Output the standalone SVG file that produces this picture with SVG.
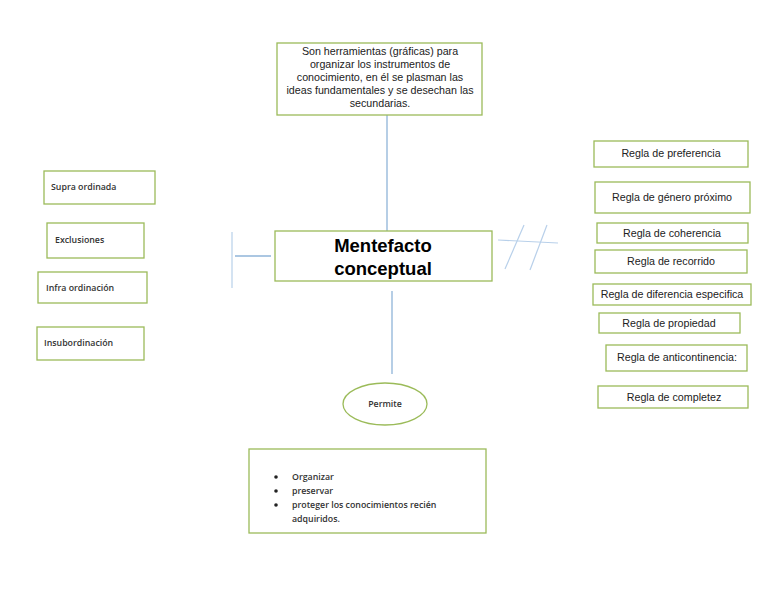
<svg xmlns="http://www.w3.org/2000/svg" width="768" height="594" viewBox="0 0 768 594">
<style>
.box{fill:#fff;stroke:#9bbb59;stroke-width:1.3}
.ln{stroke:#8fb4d8;stroke-width:1.3;fill:none}
.lt{stroke:#b8d0ea;stroke-width:1.2;fill:none}
.a{font-family:"Liberation Sans",Arial,sans-serif;font-size:10.7px;fill:#222;text-anchor:middle}
.c{font-family:"Open Sans","Noto Sans",sans-serif;font-size:8.8px;font-weight:600;fill:#333}
.t{font-family:"Liberation Sans",Arial,sans-serif;font-size:18.5px;font-weight:bold;fill:#000;text-anchor:middle}
</style>
<rect width="768" height="594" fill="#fff"/>
<g id="connectors">
<line class="ln" x1="387" y1="104" x2="387" y2="231"/>
<line class="ln" x1="392" y1="291" x2="392" y2="374"/>
<line class="lt" x1="232" y1="232" x2="232" y2="288"/>
<line class="ln" x1="235" y1="256" x2="271" y2="256"/>
<line class="lt" x1="498" y1="240" x2="558" y2="243"/>
<line class="lt" x1="524" y1="225" x2="505" y2="269"/>
<line class="lt" x1="547" y1="225" x2="530" y2="270"/>
</g>
<g id="definicion">
<rect class="box" x="277" y="43" width="205" height="72"/>
<text class="a" x="380" y="55">Son herramientas (gráficas) para</text>
<text class="a" x="380" y="68">organizar los instrumentos de</text>
<text class="a" x="380" y="81">conocimiento, en él se plasman las</text>
<text class="a" x="380" y="94">ideas fundamentales y se desechan las</text>
<text class="a" x="380" y="107">secundarias.</text>
</g>
<g id="mentefacto">
<rect class="box" x="275" y="231" width="217" height="50"/>
<text class="t" x="383" y="252">Mentefacto</text>
<text class="t" x="383" y="275">conceptual</text>
</g>
<g id="supra"><rect class="box" x="44" y="171" width="111" height="33"/><text class="c" x="51" y="190">Supra ordinada</text></g>
<g id="exclusiones"><rect class="box" x="47" y="223" width="97" height="35"/><text class="c" x="55" y="243">Exclusiones</text></g>
<g id="infra"><rect class="box" x="38" y="272" width="109" height="31"/><text class="c" x="46" y="291">Infra ordinación</text></g>
<g id="insub"><rect class="box" x="37" y="327" width="107" height="33"/><text class="c" x="44" y="346">Insubordinación</text></g>
<g id="preferencia"><rect class="box" x="594" y="141" width="154" height="26"/><text class="a" x="671" y="157">Regla de preferencia</text></g>
<g id="genero"><rect class="box" x="595" y="182" width="155" height="31"/><text class="a" x="672" y="201">Regla de género próximo</text></g>
<g id="coherencia"><rect class="box" x="597" y="223" width="151" height="20"/><text class="a" x="672" y="237">Regla de coherencia</text></g>
<g id="recorrido"><rect class="box" x="595" y="250" width="152" height="23"/><text class="a" x="671" y="265">Regla de recorrido</text></g>
<g id="diferencia"><rect class="box" x="593" y="284" width="158" height="21"/><text class="a" x="672" y="298">Regla de diferencia especifica</text></g>
<g id="propiedad"><rect class="box" x="599" y="313" width="141" height="20"/><text class="a" x="669" y="327">Regla de propiedad</text></g>
<g id="anticontinencia"><rect class="box" x="606" y="345" width="141" height="26"/><text class="a" x="677" y="361">Regla de anticontinencia:</text></g>
<g id="completez"><rect class="box" x="598" y="386" width="150" height="22"/><text class="a" x="674" y="401">Regla de completez</text></g>
<g id="permite"><ellipse class="box" cx="385" cy="404" rx="42" ry="21"/><text class="c" x="385" y="407" text-anchor="middle">Permite</text></g>
<g id="lista">
<rect class="box" x="249" y="449" width="237" height="84"/>
<circle cx="276" cy="477" r="1.8" fill="#222"/>
<circle cx="276" cy="491" r="1.8" fill="#222"/>
<circle cx="276" cy="505" r="1.8" fill="#222"/>
<text class="c" x="292" y="480">Organizar</text>
<text class="c" x="292" y="494">preservar</text>
<text class="c" x="292" y="508">proteger los conocimientos recién</text>
<text class="c" x="292" y="522">adquiridos.</text>
</g>
</svg>
